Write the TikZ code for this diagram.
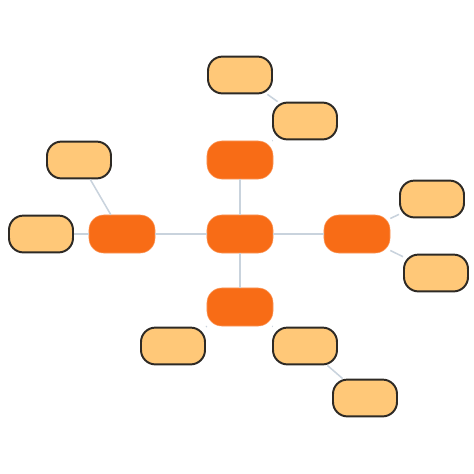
\documentclass[tikz,border=0pt]{standalone}
\usepackage{tikz}

\definecolor{hubor}{HTML}{F86C16}
\definecolor{leafor}{HTML}{FFC878}
\definecolor{leafline}{HTML}{2E2A25}
\definecolor{linkgray}{HTML}{C9D3DD}

\begin{document}
\begin{tikzpicture}[x=0.025cm, y=-0.025cm,
        hub/.style={rectangle, rounded corners=0.37cm, fill=hubor, draw=hubor!70!white, line width=0.4pt, minimum width=1.65cm, minimum height=0.95cm, inner sep=0pt},
        leaf/.style={rectangle, rounded corners=0.36cm, fill=leafor, draw=leafline, line width=1.4pt, minimum width=1.6cm, minimum height=0.92cm, inner sep=0pt},
        link/.style={draw=linkgray, line width=1.1pt}]
        \useasboundingbox (0,0) rectangle (474,474);

        \node[hub](Center) at (240, 234) {};
        \node[hub](Top) at (240, 160) {};
        \node[hub](Left) at (122, 234) {};
        \node[hub](Right) at (357, 234) {};
        \node[hub](Bottom) at (240, 307) {};

        \node[leaf](Top leaf far) at (240, 75) {};
        \node[leaf](Top leaf) at (305, 121) {};
        \node[leaf](Left leaf up) at (79, 160) {};
        \node[leaf](Left leaf) at (41, 234) {};
        \node[leaf](Right leaf up) at (432, 199) {};
        \node[leaf](Right leaf down) at (436, 273) {};
        \node[leaf](Bottom leaf left) at (173, 346) {};
        \node[leaf](Bottom leaf right) at (305, 346) {};
        \node[leaf](Bottom leaf far) at (365, 398) {};

        \draw[link] (Center) -- (Top);
        \draw[link] (Center) -- (Left);
        \draw[link] (Center) -- (Right);
        \draw[link] (Center) -- (Bottom);

        \draw[link] (Top) -- (Top leaf);
        \draw[link] (Top leaf) -- (Top leaf far);

        \draw[link] (Left) -- (Left leaf up);
        \draw[link] (Left) -- (Left leaf);

        \draw[link] (Right) -- (Right leaf up);
        \draw[link] (Right) -- (Right leaf down);

        \draw[link] (Bottom) -- (Bottom leaf left);
        \draw[link] (Bottom) -- (Bottom leaf right);
        \draw[link] (Bottom leaf right) -- (Bottom leaf far);
    \end{tikzpicture}
\end{document}
